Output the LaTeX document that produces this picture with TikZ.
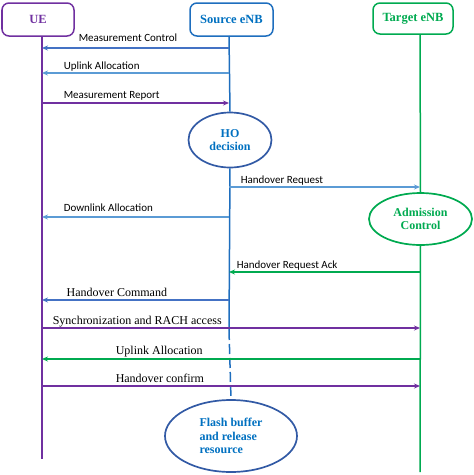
\documentclass[tikz,border=0pt]{standalone}
\usepackage{fontspec}
\setmainfont{Liberation Serif}
\newfontfamily\calfont{Carlito}
\usetikzlibrary{arrows.meta,shapes.geometric}
\definecolor{uepurple}{RGB}{112,48,160}
\definecolor{srcblue}{RGB}{30,110,190}
\definecolor{hoblue}{RGB}{50,90,165}
\definecolor{txtblue}{RGB}{0,112,192}
\definecolor{msgblue}{RGB}{68,114,196}
\definecolor{lightblue}{RGB}{91,155,213}
\definecolor{tgtgreen}{RGB}{0,170,80}

\begin{document}
\begin{tikzpicture}[x=1pt,y=-1pt,line width=1.5pt,
  actor/.style={draw,rounded corners=7pt,minimum height=33pt,inner sep=0pt,
    font=\bfseries\fontsize{12.5}{14}\selectfont},
  bubble/.style={draw,ellipse,inner sep=0pt,line width=1.7pt,
    font=\bfseries\fontsize{12}{13.5}\selectfont},
  msg/.style={-{Stealth[length=6pt,width=5pt]}},
  sanslbl/.style={anchor=base west,inner sep=0pt,font=\calfont\fontsize{11}{12}\selectfont},
  seriflbl/.style={anchor=base west,inner sep=0pt,font=\fontsize{12}{14}\selectfont}]
\useasboundingbox (0,0) rectangle (474,475);

% the three parties
\node[actor,uepurple,minimum width=72pt] (ue) at (38,19.5) {UE};
\node[actor,srcblue,text=txtblue,minimum width=83pt] (src) at (231.5,19.5) {Source eNB};
\node[actor,tgtgreen,minimum width=80pt,minimum height=31pt] (tgt) at (413,18.5) {Target eNB};

% local processing
\node[bubble,hoblue,text=txtblue,minimum width=83pt,minimum height=55pt,align=center] (ho) at (230,140) {HO\\decision};
\node[bubble,tgtgreen,minimum width=103pt,minimum height=52pt,align=center] (adm) at (420.5,219) {Admission\\Control};
\node[bubble,hoblue,text=txtblue,minimum width=132pt,minimum height=72pt,align=left] (flush) at (231,436) {Flash buffer\\and release\\resource};

% lifelines
\coordinate (ue0) at (42,36);   \coordinate (ueE) at (42,459);
\coordinate (src0) at (229,36); \coordinate (srcD) at (229,330);
\coordinate (tgt0) at (420,34); \coordinate (tgtE) at (420,472);
\draw[uepurple] (ue0) -- (ueE);
\draw[srcblue] (src0) -- (ho.north);
\draw[srcblue] (ho.south) -- (srcD);
\draw[srcblue,dash pattern=on 10pt off 4pt] (srcD) -- (flush.north);
\draw[tgtgreen] (tgt0) -- (adm.north);
\draw[tgtgreen] (adm.south) -- (tgtE);

% message end points
\coordinate (s1) at (229,48);  \coordinate (u1) at (42,48);
\coordinate (s2) at (229,73);  \coordinate (u2) at (42,73);
\coordinate (s3) at (229,103); \coordinate (u3) at (42,103);
\coordinate (s4) at (229,187); \coordinate (t4) at (420,187);
\coordinate (s5) at (229,217); \coordinate (u5) at (42,217);
\coordinate (s6) at (229,272); \coordinate (t6) at (420,272);
\coordinate (s7) at (229,300); \coordinate (u7) at (42,300);
\coordinate (u8) at (42,328);  \coordinate (t8) at (420,328);
\coordinate (u9) at (42,359);  \coordinate (t9) at (420,359);
\coordinate (u10) at (42,386); \coordinate (t10) at (420,386);

% messages
\draw[msg,msgblue] (s1) -- (u1);
\draw[msg,lightblue] (s2) -- (u2);
\draw[msg,uepurple] (u3) -- (s3);
\draw[msg,lightblue] (s4) -- (t4);
\draw[msg,lightblue] (s5) -- (u5);
\draw[msg,tgtgreen] (t6) -- (s6);
\draw[msg,msgblue] (s7) -- (u7);
\draw[msg,uepurple] (u8) -- (t8);
\draw[msg,tgtgreen] (t9) -- (u9);
\draw[msg,uepurple] (u10) -- (t10);

% labels
\node[sanslbl] (l1) at (78,41) {Measurement Control};
\node[sanslbl] (l2) at (63,69) {Uplink Allocation};
\node[sanslbl] (l3) at (63,98) {Measurement Report};
\node[sanslbl] (l4) at (240,183) {Handover Request};
\node[sanslbl] (l5) at (63,211) {Downlink Allocation};
\node[sanslbl] (l6) at (236,268) {Handover Request Ack};
\node[seriflbl] (l7) at (66,296) {Handover Command};
\node[seriflbl] (l8) at (52,324) {Synchronization and RACH access};
\node[seriflbl] (l9) at (115,354) {Uplink Allocation};
\node[seriflbl] (l10) at (115,382) {Handover confirm};
\end{tikzpicture}
\end{document}
